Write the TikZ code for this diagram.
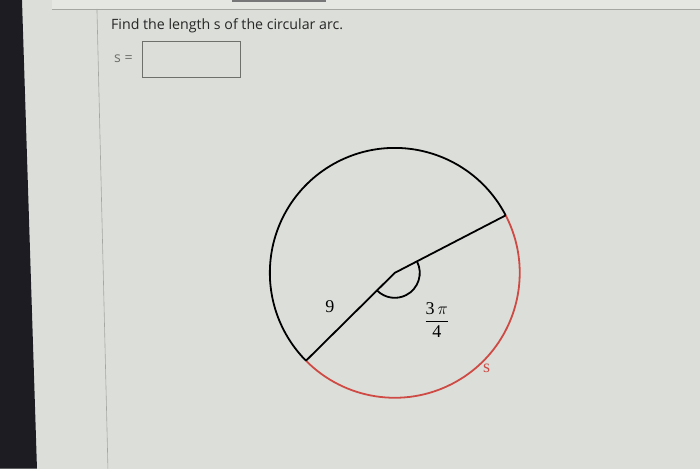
\documentclass[tikz,border=0pt]{standalone}
\usepackage{amsmath}
\usepackage{fontspec}
\setmainfont{Liberation Serif}
\newfontfamily\uifont{Open Sans}
\usepackage{tikz}
\usetikzlibrary{positioning,calc}

\definecolor{screenbg}{HTML}{DCDFD9}
\definecolor{bezel}{HTML}{1C1C22}
\definecolor{rulegray}{HTML}{A4A7A2}
\definecolor{arcred}{HTML}{CF4A44}
\definecolor{hintgray}{HTML}{6E706C}

\begin{document}
\begin{tikzpicture}[x=1pt,y=-1pt,
    question/.style={font=\uifont\fontsize{14.2}{16}\selectfont, text=black!85, inner sep=0pt},
    answerbox/.style={draw=hintgray, line width=0.9pt, minimum width=98pt, minimum height=36pt, inner sep=0pt},
    figlabel/.style={font=\fontsize{18}{20}\selectfont, inner sep=0pt},
    rim/.style={line width=1.8pt}]
    % screen and frame
    \fill[screenbg] (0,0) rectangle (700,469);
    \fill[bezel] (0,0) -- (22,0) -- (37,469) -- (0,469) -- cycle;
    \fill[screenbg!75!white] (52,0) rectangle (700,9);
    \fill[bezel!60] (232,0) rectangle (326,1.5);
    \draw[rulegray, line width=0.8pt] (52,9) -- (700,9);
    \draw[rulegray, line width=0.6pt] (97,9) -- (108,469);
    \useasboundingbox (0,0) rectangle (700,469);

    % question
    \node[question, anchor=base west] (title) at (111,30) {Find the length s of the circular arc.};
    \node[question, text=hintgray, anchor=base west] (slabel) at (114,63) {s =};
    \node[answerbox] (box) at (192,59) {};

    % figure
    \coordinate (O) at (395,273);
    \coordinate (P) at ($(O)+(-27.4:125)$);
    \coordinate (Q) at ($(O)+(135.3:125)$);
    \draw[rim] (P) arc[start angle=-27.4, end angle=-224.7, radius=125];
    \draw[rim, arcred] (P) arc[start angle=-27.4, end angle=135.3, radius=125];
    \draw[rim, line join=round] (P) -- (O) -- (Q);
    \draw[rim] ($(O)+(-27.4:25)$) arc[start angle=-27.4, end angle=135.3, radius=25];

    \node[figlabel] (nine) at (330,307) {9};
    \node[figlabel] (theta) at (437,320) {$\dfrac{\text{3}\,\pi}{\text{4}}$};
    \node[figlabel, text=arcred] (s) at (487,369) {s};
\end{tikzpicture}
\end{document}
